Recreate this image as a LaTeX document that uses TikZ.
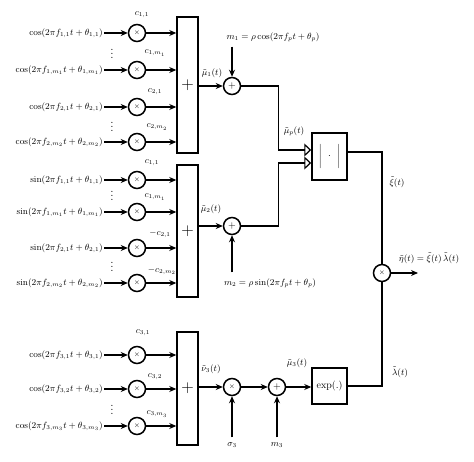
\documentclass[tikz,border=0pt]{standalone}
\usetikzlibrary{arrows.meta}
\newcommand\mkrow[7]{%
  \node[circ,font=\scriptsize] (#1) at (137,#2) {$\times$};
  \node[inlab] (#1i) at (104,#2) {#3};
  \node[lab] (#1c) at (#5,#6) {#4};
  \draw[arr] (#1i.east) -- (#1);
  \draw[arr] (#1) -- (#1 -| #7.west);
}
\begin{document}
\begin{tikzpicture}[x=1pt,y=-1pt,
  line/.style={line width=1.5pt},
  arr/.style={line, -{Stealth[length=7pt,width=6pt]}},
  harr/.style={line, -{Triangle[open,length=7pt,width=13pt,line width=1.2pt]}},
  circ/.style={circle,draw,line width=1.5pt,minimum size=17pt,inner sep=0pt},
  sumbox/.style={draw,line width=1.5pt,minimum width=21pt,inner sep=0pt,font=\LARGE},
  blk/.style={draw,line width=1.5pt,minimum width=35pt,inner sep=0pt},
  inlab/.style={anchor=east,inner sep=1pt,font=\small},
  lab/.style={font=\small,inner sep=1pt},
  dots/.style={font=\large,inner sep=0pt}
]
\useasboundingbox (0,0) rectangle (474,462);

% summing boxes
\node[sumbox,minimum height=136pt] (S1) at (187.5,85) {$+$};
\node[sumbox,minimum height=132pt] (S2) at (187.5,231) {$+$};
\node[sumbox,minimum height=113pt] (S3) at (187.5,388.5) {$+$};

% top group
\mkrow{r1}{33}{$\cos(2\pi f_{1,1}t+\theta_{1,1})$}{$c_{1,1}$}{142}{15}{S1}
\mkrow{r2}{70}{$\cos(2\pi f_{1,m_1}t+\theta_{1,m_1})$}{$c_{1,m_1}$}{155}{53}{S1}
\mkrow{r3}{107}{$\cos(2\pi f_{2,1}t+\theta_{2,1})$}{$c_{2,1}$}{155}{92}{S1}
\mkrow{r4}{142}{$\cos(2\pi f_{2,m_2}t+\theta_{2,m_2})$}{$c_{2,m_2}$}{157}{127}{S1}
\node[dots] (d1) at (112,51) {$\vdots$};
\node[dots] (d2) at (112,124) {$\vdots$};

% middle group
\mkrow{s1}{180}{$\sin(2\pi f_{1,1}t+\theta_{1,1})$}{$c_{1,1}$}{152}{163}{S2}
\mkrow{s2}{212}{$\sin(2\pi f_{1,m_1}t+\theta_{1,m_1})$}{$c_{1,m_1}$}{155}{197}{S2}
\mkrow{s3}{248}{$\sin(2\pi f_{2,1}t+\theta_{2,1})$}{$-c_{2,1}$}{160}{234}{S2}
\mkrow{s4}{283}{$\sin(2\pi f_{2,m_2}t+\theta_{2,m_2})$}{$-c_{2,m_2}$}{162}{271}{S2}
\node[dots] (d3) at (112,193) {$\vdots$};
\node[dots] (d4) at (112,264) {$\vdots$};

% bottom group
\mkrow{b1}{355}{$\cos(2\pi f_{3,1}t+\theta_{3,1})$}{$c_{3,1}$}{143}{333}{S3}
\mkrow{b2}{389}{$\cos(2\pi f_{3,2}t+\theta_{3,2})$}{$c_{3,2}$}{155}{377}{S3}
\mkrow{b3}{426}{$\cos(2\pi f_{3,m_3}t+\theta_{3,m_3})$}{$c_{3,m_3}$}{157}{414}{S3}
\node[dots] (d5) at (112,407) {$\vdots$};

% adders
\node[circ] (A1) at (232,86) {$+$};
\node[circ] (A2) at (232,226) {$+$};
\node[lab] (M1) at (273,37) {$m_1=\rho\cos(2\pi f_p t+\theta_p)$};
\node[lab] (M2) at (270,283) {$m_2=\rho\sin(2\pi f_p t+\theta_p)$};
\draw[arr] (S1.east |- A1) -- (A1);
\draw[arr] (S2.east |- A2) -- (A2);
\draw[arr] (A1 |- M1.south) ++(0,4) -- (A1);
\draw[arr] (A2 |- M2.north) ++(0,-5) -- (A2);
\node[lab] (l1) at (212,73) {$\tilde\mu_1(t)$};
\node[lab] (l2) at (211,209) {$\tilde\mu_2(t)$};

% modulus block
\node[blk,minimum height=47pt] (ABS) at (329.5,156.5) {$\bigg|\hspace{4pt}\cdot\hspace{4pt}\bigg|$};
\draw[harr] (A1.east) -- ++(37,0) |- ([yshift=6.5pt]ABS.west);
\draw[harr] (A2.east) -- ++(37,0) |- ([yshift=-6.5pt]ABS.west);
\node[lab] (lp) at (294,131) {$\tilde\mu_p(t)$};

% final multiplier
\node[circ,font=\scriptsize] (F) at (382,273) {$\times$};
\coordinate (Fout) at (418,273);
\draw[line] ([yshift=4.5pt]ABS.east) -| (F);
\draw[arr] (F) -- (Fout);
\node[lab] (lxi) at (397,182) {$\tilde\xi(t)$};
\node[lab] (leta) at (429,258) {$\tilde\eta(t)=\tilde\xi(t)\,\tilde\lambda(t)$};

% bottom chain
\node[circ,font=\scriptsize] (B1) at (232,387) {$\times$};
\node[circ] (B2) at (277,387) {$+$};
\node[blk,minimum height=36pt] (EXP) at (329.5,386) {exp(.)};
\node[lab] (SG) at (232,445) {$\sigma_3$};
\node[lab] (M3) at (277,445) {$m_3$};
\draw[arr] (S3.east |- B1) -- (B1);
\draw[arr] (B1) -- (B2);
\draw[arr] (B2) -- (EXP.west |- B2);
\draw[line] (EXP.east) -| (F);
\draw[arr] (B1 |- SG.north) ++(0,-4) -- (B1);
\draw[arr] (B2 |- M3.north) ++(0,-4) -- (B2);
\node[lab] (lnu) at (211,369) {$\tilde\nu_3(t)$};
\node[lab] (lmu3) at (297,363) {$\tilde\mu_3(t)$};
\node[lab] (llam) at (400,372) {$\tilde\lambda(t)$};
\end{tikzpicture}
\end{document}
